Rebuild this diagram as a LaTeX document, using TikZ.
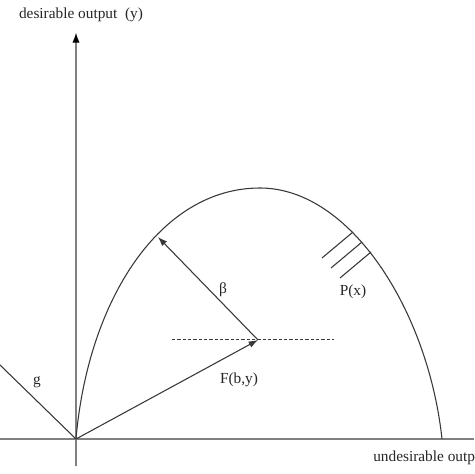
\documentclass[tikz,border=0pt]{standalone}
\usepackage{fontspec}
\setmainfont{Liberation Serif}
\usepackage{xcolor}
\colorlet{colorAxis}{black!50}
\colorlet{colorLine}{black!78}
\usetikzlibrary{arrows.meta}
\tikzset{
  axis/.style={colorAxis, line width=1.5pt},
  frontier/.style={colorLine, line width=0.8pt},
  vec/.style={colorLine, line width=0.8pt, -{Latex[length=7pt,width=5pt]}},
  ref/.style={colorLine, line width=0.6pt, dash pattern=on 2.5pt off 1.5pt},
  label text/.style={font=\fontsize{11.5}{13}\selectfont, inner sep=0pt, text=black!85},
}

\begin{document}
\begin{tikzpicture}[x=0.75pt, y=-0.75pt]
\useasboundingbox (0,0) rectangle (474,474);
\clip (0,0) rectangle (474,474);
\fill[white] (0,0) rectangle (474,474);
% axes
\coordinate (o) at (76,439);
\coordinate (ytop) at (76,32);
\coordinate (ybot) at (76,466);
\coordinate (xleft) at (0,439);
\coordinate (xright) at (474,439);
\draw[axis] (xleft) -- (xright);
\draw[axis, -{Latex[black,length=8pt,width=5.5pt]}] (ybot) -- (ytop);
% output set boundary
\coordinate (top) at (260,188);
\coordinate (xend) at (442,439);
\draw[frontier] (o) .. controls (88,300) and (160,188) .. (top)
  .. controls (350,188) and (428,310) .. (xend);
% direction vectors
\coordinate (f) at (258,340);
\coordinate (b) at (158,237);
\coordinate (dl) at (172,339);
\coordinate (dr) at (334,339);
\coordinate (gend) at (0,365);
\draw[ref] (dl) -- (dr);
\draw[vec] (o) -- (f);
\draw[vec] (f) -- (b);
\draw[frontier] (gend) -- (o);
% hatching at P(x)
\foreach \hx/\hy in {353/232, 362/242, 371/252}
  \draw[frontier] (\hx,\hy) -- ++(-31,26);
% labels
\node[label text] (ylabel) at (81,15) {desirable output\ \ (y)};
\node[label text, anchor=west] (xlabel) at (373,458) {undesirable output};
\node[label text] (glabel) at (37,382) {g};
\node[label text] (blabel) at (223,290) {β};
\node[label text] (flabel) at (239,380) {F(b,y)};
\node[label text] (plabel) at (353,292) {P(x)};
\end{tikzpicture}
\end{document}
